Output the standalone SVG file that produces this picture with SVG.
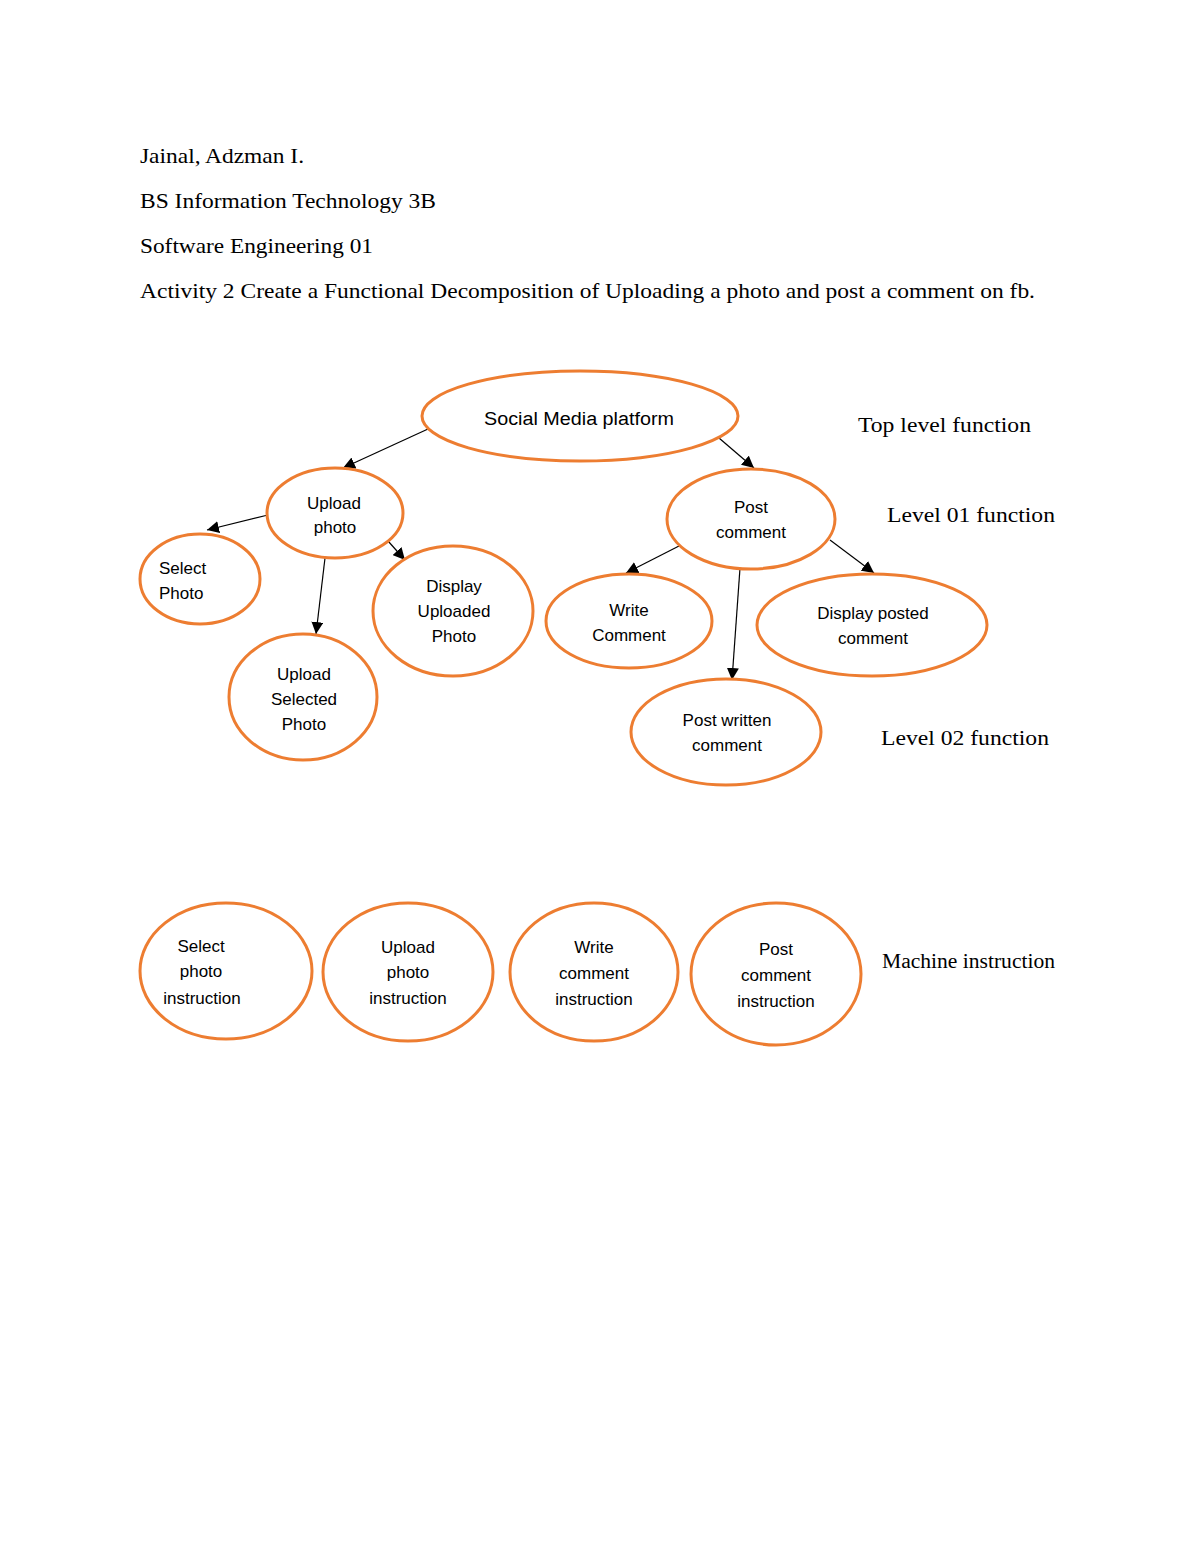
<svg xmlns="http://www.w3.org/2000/svg" width="1200" height="1553" viewBox="0 0 1200 1553">
<style>
.bg{fill:#ffffff}
.hdr{font-family:"Liberation Serif","DejaVu Serif",serif;font-size:22px;fill:#000}
.lvl{font-family:"Liberation Serif","DejaVu Serif",serif;font-size:22px;fill:#000}
.node ellipse{fill:#ffffff;stroke:#ED7D31;stroke-width:3}
.node text{font-family:"Liberation Sans","Open Sans",sans-serif;font-size:17px;fill:#000;text-anchor:middle}
.edge line{stroke:#000;stroke-width:1.2;marker-end:url(#ah)}
</style>
<defs>
<marker id="ah" viewBox="0 0 12 12" refX="12" refY="6" markerWidth="12" markerHeight="12" markerUnits="userSpaceOnUse" orient="auto">
<path d="M0,0 L12,6 L0,12 Z" fill="#000"/>
</marker>
</defs>
<rect class="bg" x="0" y="0" width="1200" height="1553"/>

<g id="header">
<text class="hdr" x="140" y="163" textLength="164" lengthAdjust="spacingAndGlyphs">Jainal, Adzman I.</text>
<text class="hdr" x="140" y="208" textLength="296" lengthAdjust="spacingAndGlyphs">BS Information Technology 3B</text>
<text class="hdr" x="140" y="253" textLength="233" lengthAdjust="spacingAndGlyphs">Software Engineering 01</text>
<text class="hdr" x="140" y="298" textLength="895" lengthAdjust="spacingAndGlyphs">Activity 2 Create a Functional Decomposition of Uploading a photo and post a comment on fb.</text>
</g>

<g id="level-labels">
<text class="lvl" x="858" y="432" textLength="173" lengthAdjust="spacingAndGlyphs">Top level function</text>
<text class="lvl" x="887" y="522" textLength="168" lengthAdjust="spacingAndGlyphs">Level 01 function</text>
<text class="lvl" x="881" y="745" textLength="168" lengthAdjust="spacingAndGlyphs">Level 02 function</text>
<text class="lvl" x="882" y="968" style="font-size:20px" textLength="173" lengthAdjust="spacingAndGlyphs">Machine instruction</text>
</g>

<g id="connectors" class="edge">
<line x1="428" y1="429" x2="343" y2="468"/>
<line x1="719" y1="438" x2="754" y2="468"/>
<line x1="268" y1="515" x2="207" y2="530"/>
<line x1="388" y1="541" x2="405" y2="560"/>
<line x1="325" y1="558" x2="316" y2="634"/>
<line x1="679" y1="546" x2="626" y2="573"/>
<line x1="740" y1="568" x2="732" y2="680"/>
<line x1="830" y1="540" x2="874" y2="573"/>
</g>

<g id="social-media-platform" class="node">
<ellipse cx="580" cy="416" rx="158" ry="45"/>
<text x="579" y="425" style="font-size:18px" textLength="190" lengthAdjust="spacingAndGlyphs">Social Media platform</text>
</g>

<g id="upload-photo" class="node">
<ellipse cx="335" cy="513" rx="68" ry="45"/>
<text x="334" y="509">Upload</text>
<text x="335" y="533">photo</text>
</g>

<g id="select-photo" class="node">
<ellipse cx="200" cy="579" rx="60" ry="45"/>
<text x="159" y="574" style="text-anchor:start">Select</text>
<text x="159" y="599" style="text-anchor:start">Photo</text>
</g>

<g id="display-uploaded-photo" class="node">
<ellipse cx="453" cy="611" rx="80" ry="65"/>
<text x="454" y="592">Display</text>
<text x="454" y="617">Uploaded</text>
<text x="454" y="642">Photo</text>
</g>

<g id="upload-selected-photo" class="node">
<ellipse cx="303" cy="697" rx="74" ry="63"/>
<text x="304" y="680">Upload</text>
<text x="304" y="705">Selected</text>
<text x="304" y="730">Photo</text>
</g>

<g id="post-comment" class="node">
<ellipse cx="751" cy="519" rx="84" ry="50"/>
<text x="751" y="513">Post</text>
<text x="751" y="538">comment</text>
</g>

<g id="write-comment" class="node">
<ellipse cx="629" cy="621" rx="83" ry="47"/>
<text x="629" y="616">Write</text>
<text x="629" y="641">Comment</text>
</g>

<g id="display-posted-comment" class="node">
<ellipse cx="872" cy="625" rx="115" ry="51"/>
<text x="873" y="619">Display posted</text>
<text x="873" y="644">comment</text>
</g>

<g id="post-written-comment" class="node">
<ellipse cx="726" cy="732" rx="95" ry="53"/>
<text x="727" y="726">Post written</text>
<text x="727" y="751">comment</text>
</g>

<g id="select-photo-instruction" class="node">
<ellipse cx="226" cy="971" rx="86" ry="68"/>
<text x="201" y="952">Select</text>
<text x="201" y="977">photo</text>
<text x="202" y="1004">instruction</text>
</g>

<g id="upload-photo-instruction" class="node">
<ellipse cx="408" cy="972" rx="85" ry="69"/>
<text x="408" y="953">Upload</text>
<text x="408" y="978">photo</text>
<text x="408" y="1004">instruction</text>
</g>

<g id="write-comment-instruction" class="node">
<ellipse cx="594" cy="972" rx="84" ry="69"/>
<text x="594" y="953">Write</text>
<text x="594" y="979">comment</text>
<text x="594" y="1005">instruction</text>
</g>

<g id="post-comment-instruction" class="node">
<ellipse cx="776" cy="974" rx="85" ry="71"/>
<text x="776" y="955">Post</text>
<text x="776" y="981">comment</text>
<text x="776" y="1007">instruction</text>
</g>
</svg>
